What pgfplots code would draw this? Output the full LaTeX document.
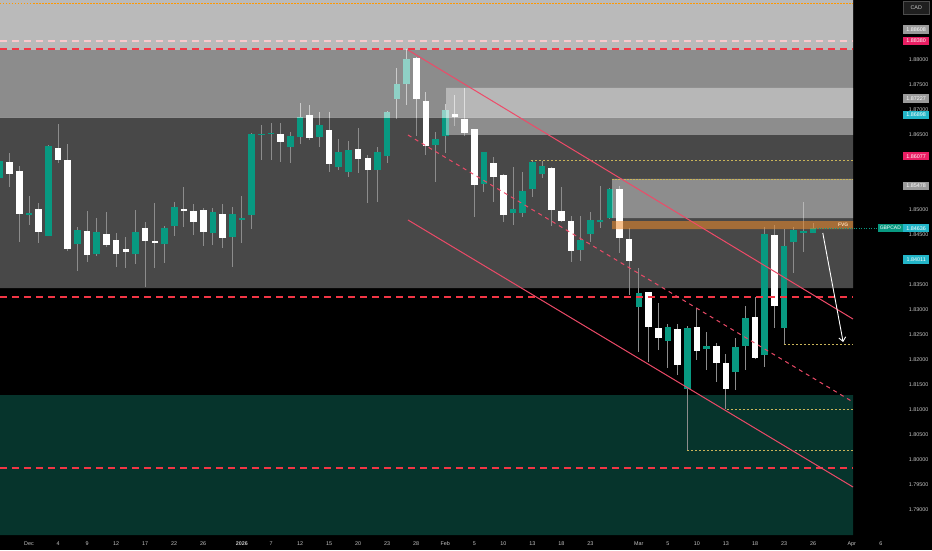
\documentclass[border=0pt]{standalone}
\usepackage{fontspec}
\setmainfont{Liberation Sans}
\usepackage{pgfplots}
\pgfplotsset{compat=1.18}
\usepackage{pgfplotstable}
\usetikzlibrary{arrows.meta}

\definecolor{up}{HTML}{089981}
\definecolor{wick}{HTML}{8C8C8C}
\definecolor{zdark}{HTML}{484848}
\definecolor{zteal}{HTML}{06342C}
\definecolor{hpink}{HTML}{F23645}
\definecolor{chan}{HTML}{EE4A68}
\definecolor{ylw}{HTML}{C9B45A}
\definecolor{fvg}{HTML}{F08C2C}
\definecolor{lblgray}{HTML}{9A9A9A}
\definecolor{lblpink}{HTML}{E91E63}
\definecolor{lblcyan}{HTML}{22B5C8}
\definecolor{ticktext}{HTML}{C4C4C4}

\pgfplotstableread{
i o h l c
-3 1.8564 1.8626 1.8494 1.8598
0 1.8490 1.8528 1.8470 1.8494
2 1.8448 1.8630 1.8448 1.8628
5 1.8432 1.8466 1.8378 1.8460
7 1.8412 1.8484 1.8408 1.8456
11 1.8412 1.8500 1.8392 1.8456
14 1.8432 1.8468 1.8394 1.8464
15 1.8468 1.8516 1.8448 1.8506
19 1.8454 1.8504 1.8430 1.8496
21 1.8446 1.8506 1.8386 1.8492
22 1.8480 1.8528 1.8434 1.8484
23 1.8490 1.8654 1.8462 1.8652
24 1.8650 1.8670 1.8600 1.8652
25 1.8652 1.8674 1.8600 1.8654
27 1.8626 1.8656 1.8594 1.8648
28 1.8646 1.8714 1.8632 1.8686
30 1.8646 1.8696 1.8626 1.8670
32 1.8586 1.8642 1.8580 1.8616
33 1.8576 1.8638 1.8566 1.8620
36 1.8580 1.8626 1.8516 1.8616
37 1.8608 1.8698 1.8594 1.8696
38 1.8722 1.8784 1.8682 1.8752
39 1.8752 1.8822 1.8710 1.8802
42 1.8630 1.8656 1.8556 1.8642
43 1.8648 1.8712 1.8614 1.8700
47 1.8552 1.8616 1.8536 1.8616
50 1.8494 1.8586 1.8470 1.8502
51 1.8494 1.8576 1.8486 1.8538
52 1.8542 1.8598 1.8526 1.8596
53 1.8572 1.8598 1.8564 1.8588
57 1.8420 1.8488 1.8398 1.8440
58 1.8452 1.8496 1.8436 1.8480
59 1.8476 1.8548 1.8464 1.8480
60 1.8484 1.8544 1.8482 1.8542
63 1.8306 1.8384 1.8216 1.8334
66 1.8238 1.8272 1.8184 1.8266
68 1.8142 1.8268 1.8020 1.8264
70 1.8222 1.8256 1.8180 1.8228
73 1.8176 1.8244 1.8140 1.8226
74 1.8228 1.8308 1.8180 1.8284
76 1.8210 1.8466 1.8186 1.8452
78 1.8264 1.8462 1.8232 1.8428
79 1.8436 1.8466 1.8374 1.8460
80 1.8454 1.8516 1.8416 1.8458
81 1.8454 1.8474 1.8454 1.8464
}\upt

\pgfplotstableread{
i o h l c
-2 1.8596 1.8614 1.8546 1.8572
-1 1.8578 1.8588 1.8436 1.8492
1 1.8502 1.8514 1.8434 1.8456
3 1.8624 1.8672 1.8594 1.8600
4 1.8600 1.8632 1.8418 1.8422
6 1.8458 1.8498 1.8396 1.8410
8 1.8452 1.8496 1.8426 1.8430
9 1.8440 1.8454 1.8386 1.8412
10 1.8422 1.8446 1.8384 1.8416
12 1.8464 1.8476 1.8346 1.8438
13 1.8438 1.8514 1.8384 1.8434
16 1.8502 1.8546 1.8466 1.8498
17 1.8498 1.8512 1.8450 1.8476
18 1.8500 1.8504 1.8428 1.8456
20 1.8492 1.8512 1.8424 1.8444
26 1.8652 1.8674 1.8596 1.8636
29 1.8690 1.8710 1.8640 1.8644
31 1.8660 1.8696 1.8576 1.8592
34 1.8622 1.8664 1.8574 1.8602
35 1.8604 1.8610 1.8514 1.8580
40 1.8804 1.8806 1.8648 1.8722
41 1.8718 1.8736 1.8610 1.8628
44 1.8692 1.8730 1.8668 1.8686
45 1.8682 1.8744 1.8648 1.8654
46 1.8662 1.8662 1.8486 1.8550
48 1.8594 1.8606 1.8516 1.8566
49 1.8570 1.8572 1.8476 1.8490
54 1.8584 1.8586 1.8468 1.8500
55 1.8498 1.8546 1.8476 1.8478
56 1.8478 1.8488 1.8396 1.8418
61 1.8542 1.8548 1.8414 1.8444
62 1.8442 1.8464 1.8330 1.8398
64 1.8336 1.8336 1.8196 1.8266
65 1.8264 1.8314 1.8220 1.8244
67 1.8262 1.8272 1.8170 1.8190
69 1.8266 1.8304 1.8200 1.8218
71 1.8228 1.8234 1.8156 1.8194
72 1.8194 1.8212 1.8102 1.8142
75 1.8286 1.8326 1.8202 1.8204
77 1.8450 1.8470 1.8264 1.8308
}\dnt

\newcommand{\zone}[5]{\addplot[#5] coordinates {(#1,#2) (#3,#2) (#3,#4) (#1,#4) (#1,#2)};}
\newcommand{\wicks}[1]{\addplot[draw=none, mark=none, forget plot,
  error bars/.cd, y dir=both, y explicit, error mark=none,
  error bar style={draw=wick, solid, line width=1pt}]
  table[x=i, y expr={(\thisrow{h}+\thisrow{l})/2}, y error expr={(\thisrow{h}-\thisrow{l})/2}] {#1};}
\newcommand{\bodies}[2]{\addplot[draw=none, mark=none, forget plot,
  error bars/.cd, y dir=both, y explicit, error mark=none,
  error bar style={draw=#2, solid, line width=6.6pt}]
  table[x=i, y expr={(\thisrow{o}+\thisrow{c})/2}, y error expr={max(abs(\thisrow{o}-\thisrow{c})/2,0.00015)}] {#1};}
\newcommand{\plbl}[3]{\node[fill=#2, text=white, anchor=west, xshift=8pt, minimum width=26pt, minimum height=8.5pt, inner sep=0pt, font=\fontsize{5.4}{6}\selectfont] at (axis cs:89.46,#1) {#3};}

\begin{document}
\begin{tikzpicture}
\fill[black] (0,0) rectangle (932pt,550pt);
\path[use as bounding box] (0,0) rectangle (932pt,550pt);
\begin{axis}[
  at={(0pt,15pt)}, anchor=south west, scale only axis,
  width=895pt, height=535pt,
  xmin=-2.996, xmax=89.46, ymin=1.785, ymax=1.892,
  clip mode=individual,
  axis line style={draw=none}, major tick length=0pt,
  xtick={0,3,6,9,12,15,18,22,25,28,31,34,37,40,43,46,49,52,55,58,63,66,69,72,75,78,81,85,88},
  xticklabels={Dec,4,9,12,17,22,26,\textbf{2026},7,12,15,20,23,28,Feb,5,10,13,18,23,Mar,5,10,13,18,23,26,Apr,6},
  xticklabel style={font=\fontsize{5.4}{6}\selectfont, text=ticktext, anchor=base, yshift=-10.5pt, inner sep=0pt},
  ytick={1.79,1.795,1.80,1.805,1.81,1.815,1.82,1.825,1.83,1.835,1.845,1.85,1.865,1.87,1.875,1.88},
  yticklabel pos=right,
  scaled y ticks=false,
  yticklabel style={font=\fontsize{5.4}{6}\selectfont, text=ticktext, anchor=east, xshift=33.5pt, inner sep=0pt,
    /pgf/number format/fixed, /pgf/number format/fixed zerofill, /pgf/number format/precision=5,
    /pgf/number format/assume math mode=true},
]
% base zones
\zone{-2.996}{1.7850}{85.12}{1.8130}{draw=none, fill=zteal}
\zone{-2.996}{1.8344}{85.12}{1.8684}{draw=none, fill=zdark}
% faint pink line under top overlay
\addplot[hpink, line width=1.2pt, dash pattern=on 7pt off 5pt] coordinates {(-2.996,1.8838) (85.12,1.8838)};
% candles
\wicks{\upt}
\wicks{\dnt}
\bodies{\upt}{up}
\bodies{\dnt}{white}
% overlay zones
\zone{-2.996}{1.8684}{85.12}{1.8920}{draw=none, fill=white, fill opacity=0.55}
\zone{-2.996}{1.8820}{85.12}{1.8920}{draw=none, fill=white, fill opacity=0.40}
\zone{43.08}{1.8650}{85.12}{1.8744}{draw=none, fill=white, fill opacity=0.38}
\zone{60.23}{1.8484}{85.12}{1.8562}{draw=none, fill=white, fill opacity=0.38}
\zone{60.23}{1.8462}{85.12}{1.8478}{draw=none, fill=fvg, fill opacity=0.55}
\addplot[ylw, line width=0.6pt, dash pattern=on 1.5pt off 1.5pt] coordinates {(60.23,1.8562) (85.12,1.8562)};
% horizontal lines
\addplot[orange!80!yellow, line width=0.8pt, dash pattern=on 1.5pt off 1.5pt] coordinates {(-2.996,1.8914) (85.12,1.8914)};
\addplot[hpink, line width=1.3pt, dash pattern=on 7pt off 5pt] coordinates {(-2.996,1.8822) (85.12,1.8822)};
\addplot[hpink, line width=1.3pt, dash pattern=on 7pt off 5pt] coordinates {(-2.996,1.8326) (85.12,1.8326)};
\addplot[hpink, line width=1.3pt, dash pattern=on 7pt off 5pt] coordinates {(-2.996,1.7984) (85.12,1.7984)};
\addplot[ylw, line width=0.7pt, dash pattern=on 2pt off 2pt] coordinates {(51.86,1.8600) (85.12,1.8600)};
\addplot[ylw, line width=0.7pt, dash pattern=on 2pt off 2pt] coordinates {(78.0,1.8232) (85.12,1.8232)};
\addplot[ylw, line width=0.7pt, dash pattern=on 2pt off 2pt] coordinates {(72.1,1.8102) (85.12,1.8102)};
\addplot[ylw, line width=0.7pt, dash pattern=on 2pt off 2pt] coordinates {(68.0,1.8020) (85.12,1.8020)};
% channel
\addplot[chan, line width=1pt] coordinates {(39.15,1.8820) (85.12,1.8282)};
\addplot[chan, line width=1pt, dash pattern=on 4pt off 4pt] coordinates {(39.15,1.8650) (85.12,1.8116)};
\addplot[chan, line width=1pt] coordinates {(39.15,1.8480) (85.12,1.7946)};
% arrow
\addplot[white, line width=0.9pt, -{Straight Barb[length=4pt,width=7pt]}] coordinates {(82.0,1.8454) (84.1,1.8236)};
% last price line
\addplot[up, line width=0.5pt, dash pattern=on 1pt off 1.5pt] coordinates {(81.3,1.84636) (89.46,1.84636)};
% FVG text
\node[text=orange!30!white, font=\fontsize{5}{6}\selectfont\bfseries, anchor=east] at (axis cs:85.0,1.8470) {FVG};
% price scale labels
\node[fill=black!88, draw=black!70, text=ticktext, anchor=west, xshift=8pt, minimum width=26pt, minimum height=13pt, inner sep=0pt, font=\fontsize{5.4}{6}\selectfont] at (axis cs:89.46,1.8904) {CAD};
\plbl{1.88608}{lblgray}{1.88608}
\plbl{1.88380}{lblpink}{1.88380}
\plbl{1.87227}{lblgray}{1.87227}
\plbl{1.86898}{lblcyan}{1.86898}
\plbl{1.86077}{lblpink}{1.86077}
\plbl{1.85478}{lblgray}{1.85478}
\plbl{1.84636}{lblcyan}{1.84636}
\plbl{1.84011}{lblcyan}{1.84011}
\node[fill=up, text=white, anchor=east, xshift=8pt, minimum width=25pt, minimum height=8.5pt, inner sep=0pt, font=\fontsize{5}{6}\selectfont] at (axis cs:89.46,1.84636) {GBPCAD};
\end{axis}
\end{tikzpicture}
\end{document}
